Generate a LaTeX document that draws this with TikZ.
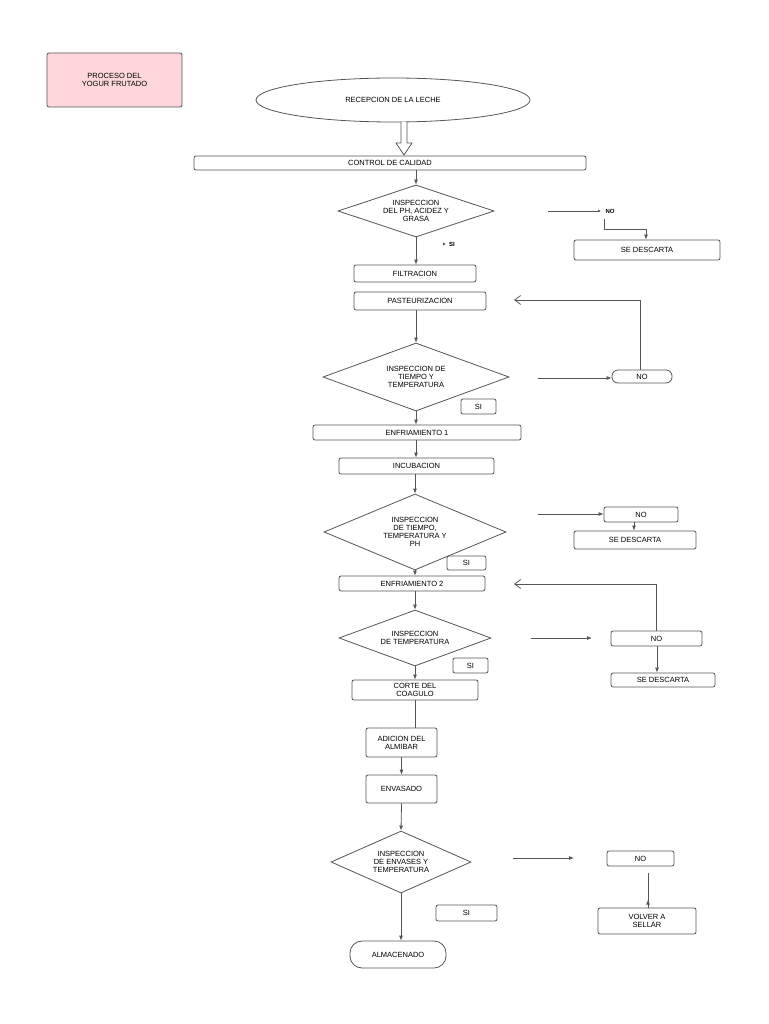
\documentclass[tikz,border=0pt]{standalone}
\usepackage{fontspec}
\setmainfont{Liberation Sans}
\usetikzlibrary{shapes.geometric,arrows.meta}
\definecolor{ln}{HTML}{555555}
\definecolor{pinkf}{HTML}{FFD6DA}
\tikzset{
 box/.style={draw=ln,line width=0.8pt,rounded corners=2pt,fill=white,inner sep=0pt,font=\fontsize{7.5}{8}\selectfont,align=center},
 stad/.style={box,rounded corners=8pt},
 dia/.style={draw=ln,line width=0.8pt,diamond,inner sep=0pt,fill=white},
 txt/.style={font=\fontsize{7.5}{8}\selectfont,align=center,inner sep=0pt},
 ar/.style={draw=ln,line width=0.8pt,-{Latex[length=5pt,width=4pt]}},
 oar/.style={draw=ln,line width=0.8pt,-{Straight Barb[length=6pt,width=9pt]}},
 pl/.style={draw=ln,line width=0.8pt}
}
\begin{document}
\begin{tikzpicture}[x=1pt,y=-1pt]
\useasboundingbox (0,0) rectangle (768,1024);
\node[box,fill=pinkf,draw=ln,minimum width=135pt,minimum height=54pt] (title) at (114.5,80) {PROCESO DEL\\YOGUR FRUTADO};
\node[draw=ln,line width=0.8pt,ellipse,minimum width=274pt,minimum height=44pt,inner sep=0pt,font=\fontsize{7.5}{8}\selectfont] (rec) at (393,100) {RECEPCION DE LA LECHE};
\node[box,minimum width=392pt,minimum height=14pt] (cc) at (390,163) {CONTROL DE CALIDAD};
\draw[pl,fill=white] (401,122) -- (401,143) -- (396,143) -- (404,155) -- (412,143) -- (407,143) -- (407,122);
\coordinate (cct) at (404,156);
\node[dia,minimum width=156pt,minimum height=52pt] (d1) at (416,211) {};
\node[txt] at (d1) {INSPECCION\\DEL PH, ACIDEZ Y\\GRASA};
\draw[ar] (416,170) -- (d1.north);
\coordinate (n1a) at (548,211); \coordinate (n1b) at (601,211);
\draw[ar,-{Latex[length=3pt,width=3pt]}] (n1a) -- (n1b);
\node[txt,font=\fontsize{6}{7}\selectfont\bfseries] (no1) at (610,211) {NO};
\node[box,minimum width=146pt,minimum height=20pt] (sd1) at (647,250) {SE DESCARTA};
\draw[ar] (604,219) |- (646,229) -- (sd1.north -| 646,0);
\node[txt,font=\fontsize{6}{7}\selectfont\bfseries] (si1) at (452,244) {SI};
\draw[ar,-{Latex[length=3pt,width=3pt]}] (443,244) -- (446,244);
\node[box,minimum width=122pt,minimum height=17pt] (fil) at (415,273.5) {FILTRACION};
\draw[ar] (d1.south) -- (fil.north -| d1.south);
\node[box,minimum width=132pt,minimum height=18pt] (pas) at (420,301) {PASTEURIZACION};
\node[dia,minimum width=186pt,minimum height=68pt] (d2) at (416,377) {};
\node[txt] at (d2) {INSPECCION DE\\TIEMPO Y\\TEMPERATURA};
\draw[ar] (416,310) -- (d2.north);
\node[stad,rounded corners=6pt,minimum width=60pt,minimum height=13pt] (no2) at (642,376.5) {NO};
\coordinate (a2) at (538,378);
\draw[ar] (a2) -- (no2.west |- a2);
\coordinate (l2) at (514,300);
\draw[oar] (640,370) |- (l2);
\node[box,minimum width=35pt,minimum height=15pt] (si2) at (478.5,406.5) {SI};
\node[box,minimum width=208pt,minimum height=15pt] (en1) at (417,432.5) {ENFRIAMIENTO 1};
\draw[ar] (d2.south) -- (en1.north -| d2.south);
\node[box,minimum width=155pt,minimum height=16pt] (inc) at (416.5,466) {INCUBACION};
\draw[ar] (416,440) -- (inc.north -| 416,0);
\node[dia,minimum width=182pt,minimum height=76pt] (d3) at (415,532) {};
\node[txt] at (d3) {INSPECCION\\DE TIEMPO,\\TEMPERATURA Y\\PH};
\draw[ar] (415,474) -- (d3.north);
\node[box,minimum width=74pt,minimum height=15pt] (no3) at (641,514.5) {NO};
\coordinate (a3) at (538,514);
\draw[ar] (a3) -- (no3.west |- a3);
\node[box,minimum width=122pt,minimum height=18pt] (sd3) at (635,540) {SE DESCARTA};
\draw[ar] (634,522) -- (sd3.north -| 634,0);
\node[box,minimum width=39pt,minimum height=14pt] (si3) at (466.5,563) {SI};
\node[box,minimum width=146pt,minimum height=15pt] (en2) at (412,583.5) {ENFRIAMIENTO 2};
\draw[ar] (d3.south) -- (en2.north -| d3.south);
\node[dia,minimum width=152pt,minimum height=56pt] (d4) at (415,638) {};
\node[txt] at (d4) {INSPECCION\\DE TEMPERATURA};
\draw[ar] (415,591) -- (d4.north);
\node[box,minimum width=91pt,minimum height=15pt] (no4) at (656.5,638.5) {NO};
\coordinate (a4) at (531,638); \coordinate (b4) at (592,638);
\draw[ar] (a4) -- (b4);
\coordinate (l4) at (514,584);
\draw[oar] (no4.north -| 656,0) |- (l4);
\node[box,minimum width=104pt,minimum height=14pt] (sd4) at (663,680) {SE DESCARTA};
\draw[ar] (no4.south -| 657,0) -- (sd4.north -| 657,0);
\node[box,minimum width=35pt,minimum height=15pt] (si4) at (470.5,665.5) {SI};
\node[box,minimum width=126pt,minimum height=20pt] (cor) at (415,690) {CORTE DEL\\COAGULO};
\draw[ar] (d4.south) -- (cor.north -| d4.south);
\node[box,minimum width=71pt,minimum height=29pt] (adi) at (401.5,742.5) {ADICION DEL\\ALMIBAR};
\draw[pl] (415,700) -- (415,728);
\node[box,minimum width=71pt,minimum height=28pt] (env) at (401.5,789) {ENVASADO};
\draw[ar] (adi.south) -- (env.north);
\node[dia,minimum width=140pt,minimum height=62pt] (d5) at (401,862) {};
\node[txt] at (d5) {INSPECCION\\DE ENVASES Y\\TEMPERATURA};
\draw[ar] (env.south) -- (d5.north);
\node[box,minimum width=67pt,minimum height=15pt] (no5) at (640.5,858.5) {NO};
\coordinate (a5) at (513,858); \coordinate (b5) at (574,858);
\draw[ar] (a5) -- (b5);
\node[box,minimum width=98pt,minimum height=26pt] (vol) at (647,921) {VOLVER A\\SELLAR};
\coordinate (c5) at (648,873);
\draw[ar] (c5) -- (vol.north -| c5) ++(0,-8);
\node[box,minimum width=61pt,minimum height=16pt] (si5) at (466.5,913) {SI};
\node[stad,rounded corners=12pt,minimum width=96pt,minimum height=27pt] (alm) at (398,954.5) {ALMACENADO};
\draw[ar] (d5.south) -- (alm.north -| d5.south);
\end{tikzpicture}
\end{document}
